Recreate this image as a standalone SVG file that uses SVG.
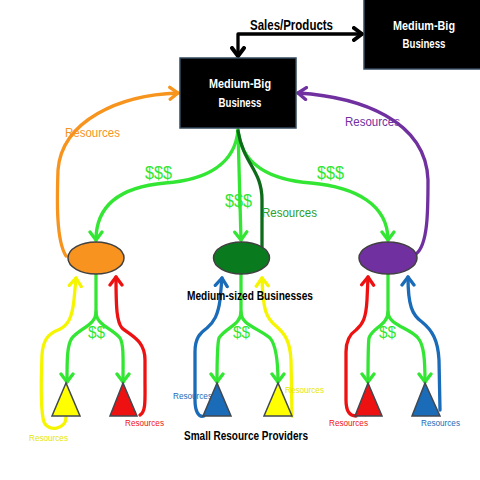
<svg xmlns="http://www.w3.org/2000/svg" width="480" height="480" viewBox="0 0 480 480">
<defs>
<style>
.c{fill:none;stroke-width:3.3;stroke-linecap:round;stroke-linejoin:round}
.box{fill:#000;stroke:#34495e;stroke-width:1.5}
.bt{font-family:"Liberation Sans",Arial,sans-serif;font-weight:bold;font-size:13.5px;fill:#fff;text-anchor:middle}
.lb{font-family:"Liberation Sans",Arial,sans-serif;font-weight:bold;fill:#000}
.rs{font-family:"Liberation Sans",Arial,sans-serif;font-size:13px}
.sm{font-family:"Liberation Sans",Arial,sans-serif;font-size:9.5px}
.dl{font-family:"Liberation Sans",Arial,sans-serif;fill:#33e633}
.el{stroke:#404040;stroke-width:1.5}
.tr{stroke:#404850;stroke-width:1.5}
.g{stroke:#33e633}
</style>
<marker id="mk" viewBox="-10 -8 12 16" refX="0" refY="0" markerWidth="12" markerHeight="16" markerUnits="userSpaceOnUse" orient="auto-start-reverse"><path d="M-8,-6 L0,0 L-8,6" fill="none" stroke="#000" stroke-width="4" stroke-linecap="round" stroke-linejoin="round"/></marker>
<marker id="mo" viewBox="-10 -8 12 16" refX="0" refY="0" markerWidth="12" markerHeight="16" markerUnits="userSpaceOnUse" orient="auto"><path d="M-8,-6 L0,0 L-8,6" fill="none" stroke="#f7941d" stroke-width="3.3" stroke-linecap="round" stroke-linejoin="round"/></marker>
<marker id="mp" viewBox="-10 -8 12 16" refX="0" refY="0" markerWidth="12" markerHeight="16" markerUnits="userSpaceOnUse" orient="auto"><path d="M-8,-6 L0,0 L-8,6" fill="none" stroke="#7030a0" stroke-width="3.3" stroke-linecap="round" stroke-linejoin="round"/></marker>
<marker id="mg" viewBox="-10 -8 12 16" refX="0" refY="0" markerWidth="12" markerHeight="16" markerUnits="userSpaceOnUse" orient="auto"><path d="M-8,-6 L0,0 L-8,6" fill="none" stroke="#33e633" stroke-width="3.3" stroke-linecap="round" stroke-linejoin="round"/></marker>
<marker id="my" viewBox="-10 -8 12 16" refX="0" refY="0" markerWidth="12" markerHeight="16" markerUnits="userSpaceOnUse" orient="auto"><path d="M-8,-6 L0,0 L-8,6" fill="none" stroke="#f5f500" stroke-width="3.3" stroke-linecap="round" stroke-linejoin="round"/></marker>
<marker id="mr" viewBox="-10 -8 12 16" refX="0" refY="0" markerWidth="12" markerHeight="16" markerUnits="userSpaceOnUse" orient="auto"><path d="M-8,-6 L0,0 L-8,6" fill="none" stroke="#ee1111" stroke-width="3.3" stroke-linecap="round" stroke-linejoin="round"/></marker>
<marker id="mb" viewBox="-10 -8 12 16" refX="0" refY="0" markerWidth="12" markerHeight="16" markerUnits="userSpaceOnUse" orient="auto"><path d="M-8,-6 L0,0 L-8,6" fill="none" stroke="#1a6bb8" stroke-width="3.3" stroke-linecap="round" stroke-linejoin="round"/></marker>
</defs>
<rect width="480" height="480" fill="#fff"/>
<g id="connectors">
<path class="c" stroke="#000" stroke-width="4.5" d="M238,56 L238,34 L362,34" marker-start="url(#mk)" marker-end="url(#mk)"/>
<path class="c" stroke="#f7941d" d="M66,256 C56,240 57,200 58,170 C62,120 120,95 178,93" marker-end="url(#mo)"/>
<path class="c" stroke="#7030a0" d="M416,254 C428,245 428,210 428,180 C426,120 360,97 298,93" marker-end="url(#mp)"/>
<path class="c g" stroke-width="4" d="M238,130 C235,165 205,180 165,183 C120,187 96,205 96,240" marker-end="url(#mg)"/>
<path class="c g" stroke-width="4" d="M238,130 C241,165 271,180 311,183 C356,187 388,205 388,240" marker-end="url(#mg)"/>
<path class="c g" d="M238,130 L241,240" marker-end="url(#mg)"/>
<path class="c" stroke="#0d6b1a" d="M262,247 L262,200 C262,170 244,165 238,131"/>
<path class="c" stroke="#f5f500" d="M66,417 C66,430 48,432 44,422 C40,410 41,380 42,355 C43,340 48,334 58,330 C68,326 72,318 74,300 L76,278" marker-end="url(#my)"/>
<path class="c g" d="M96,274 L96,312 C96,325 80,328 72,338 C67,345 67,360 67,382" marker-end="url(#mg)"/>
<path class="c g" d="M96,312 C96,325 112,328 120,338 C124,345 123,360 123,382" marker-end="url(#mg)"/>
<path class="c" stroke="#ee1111" d="M140,415 C146,412 145,400 145,380 L145,360 C145,340 130,335 122,328 C117,322 116,310 116,277" marker-end="url(#mr)"/>
<path class="c" stroke="#1a6bb8" d="M204,416 C198,418 195,410 195,400 L195,352 C195,338 200,333 207,328 C214,322 218,315 220,300 L222,278" marker-end="url(#mb)"/>
<path class="c g" d="M241,274 L241,312 C241,325 225,328 219,338 C217,345 217,360 217,382" marker-end="url(#mg)"/>
<path class="c g" d="M241,312 C241,325 258,328 270,338 C276,345 278,360 278,382" marker-end="url(#mg)"/>
<path class="c" stroke="#f5f500" d="M292,416 L291,360 C290,340 284,333 276,326 C266,318 263,310 262,278" marker-end="url(#my)"/>
<path class="c" stroke="#ee1111" d="M356,416 C349,416 346,410 346,400 L346,352 C346,340 350,334 356,330 C363,324 366,318 367,300 L368,277" marker-end="url(#mr)"/>
<path class="c g" d="M388,274 L388,312 C388,325 372,328 369,338 C368,345 368,360 368,382" marker-end="url(#mg)"/>
<path class="c g" d="M388,312 C388,325 410,328 418,338 C424,345 425,360 425,382" marker-end="url(#mg)"/>
<path class="c" stroke="#1a6bb8" d="M440,410 L439,360 C438,340 432,330 422,322 C412,315 408,305 408,277" marker-end="url(#mb)"/>
</g>
<g id="labels">
<text class="lb" x="250" y="30" font-size="14" textLength="83" lengthAdjust="spacingAndGlyphs">Sales/Products</text>
<text class="rs" x="65" y="137" fill="#f7941d" textLength="55" lengthAdjust="spacingAndGlyphs">Resources</text>
<text class="rs" x="345" y="126" fill="#7030a0" textLength="55" lengthAdjust="spacingAndGlyphs">Resources</text>
<text class="dl" x="145" y="179" font-size="18" textLength="27" lengthAdjust="spacingAndGlyphs">$$$</text>
<text class="dl" x="317" y="179" font-size="18" textLength="27" lengthAdjust="spacingAndGlyphs">$$$</text>
<text class="dl" x="225" y="207" font-size="18" textLength="27" lengthAdjust="spacingAndGlyphs">$$$</text>
<text class="rs" x="262" y="217" fill="#2aa02a" textLength="55" lengthAdjust="spacingAndGlyphs">Resources</text>
<text class="lb" x="187" y="300" font-size="12.5" textLength="126" lengthAdjust="spacingAndGlyphs">Medium-sized Businesses</text>
<text class="dl" x="88" y="338" font-size="16" textLength="17" lengthAdjust="spacingAndGlyphs">$$</text>
<text class="dl" x="233" y="338" font-size="16" textLength="17" lengthAdjust="spacingAndGlyphs">$$</text>
<text class="dl" x="379" y="338" font-size="16" textLength="17" lengthAdjust="spacingAndGlyphs">$$</text>
<text class="sm" x="29" y="441" fill="#e6e600" textLength="39" lengthAdjust="spacingAndGlyphs">Resources</text>
<text class="sm" x="125" y="426" fill="#ee1111" textLength="39" lengthAdjust="spacingAndGlyphs">Resources</text>
<text class="sm" x="173" y="399" fill="#1a6bb8" textLength="39" lengthAdjust="spacingAndGlyphs">Resources</text>
<text class="sm" x="285" y="393" fill="#e6e600" textLength="39" lengthAdjust="spacingAndGlyphs">Resources</text>
<text class="sm" x="329" y="426" fill="#ee1111" textLength="39" lengthAdjust="spacingAndGlyphs">Resources</text>
<text class="sm" x="421" y="426" fill="#1a6bb8" textLength="39" lengthAdjust="spacingAndGlyphs">Resources</text>
<text class="lb" x="184" y="440" font-size="12.5" textLength="124" lengthAdjust="spacingAndGlyphs">Small Resource Providers</text>
</g>
<g id="main-business">
<rect class="box" x="180" y="58" width="116" height="70"/>
<text class="bt" x="240" y="88" textLength="62" lengthAdjust="spacingAndGlyphs">Medium-Big</text>
<text class="bt" x="240" y="107" textLength="43" lengthAdjust="spacingAndGlyphs">Business</text>
</g>
<g id="other-business">
<rect class="box" x="364" y="-1" width="117" height="70"/>
<text class="bt" x="424" y="30" textLength="62" lengthAdjust="spacingAndGlyphs">Medium-Big</text>
<text class="bt" x="424" y="48" textLength="43" lengthAdjust="spacingAndGlyphs">Business</text>
</g>
<g id="orange-business"><ellipse class="el" cx="96" cy="258" rx="28" ry="16" fill="#f7931e"/></g>
<g id="green-business"><ellipse class="el" cx="241.5" cy="258" rx="28" ry="16" fill="#0a7a1e"/></g>
<g id="purple-business"><ellipse class="el" cx="388" cy="258" rx="29" ry="16" fill="#7030a0"/></g>
<g id="provider-1"><polygon class="tr" points="66,383 52,416 80,416" fill="#ffff00"/></g>
<g id="provider-2"><polygon class="tr" points="123,383 110,416 137,416" fill="#ee1111"/></g>
<g id="provider-3"><polygon class="tr" points="217,383 203,416 231,416" fill="#1a6bb8"/></g>
<g id="provider-4"><polygon class="tr" points="278,383 264,416 292,416" fill="#ffff00"/></g>
<g id="provider-5"><polygon class="tr" points="368,383 355,416 382,416" fill="#ee1111"/></g>
<g id="provider-6"><polygon class="tr" points="425,383 412,416 440,416" fill="#1a6bb8"/></g>
</svg>
